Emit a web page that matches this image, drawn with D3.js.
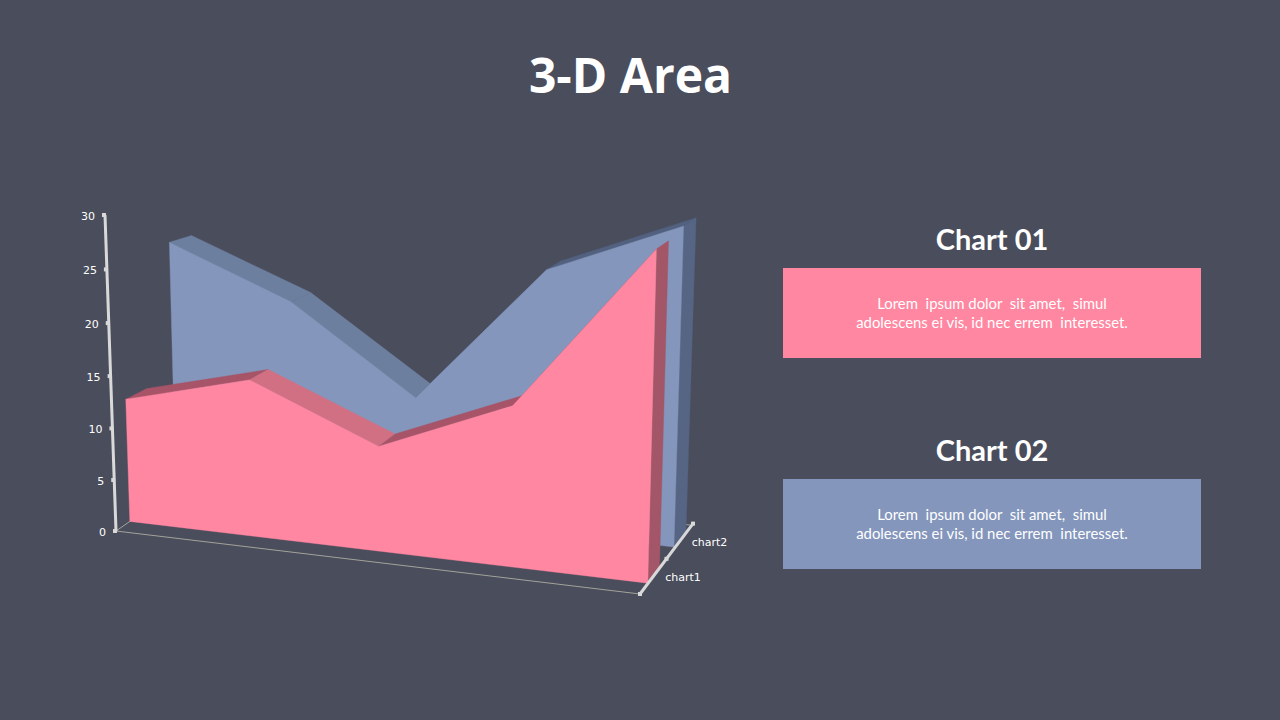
<!DOCTYPE html>
<html>
<head>
<meta charset="utf-8">
<script src="https://cdn.jsdelivr.net/npm/d3@7"></script>
<style>
  html, body { margin: 0; padding: 0; background: #4a4d5c; }
  svg { display: block; }
</style>
</head>
<body>
<script>
const width = 1280;
const height = 720;

// chart values
const categories = [0, 1, 2, 3, 4];
const seriesNames = ["chart1", "chart2"];
const chart1Values = [12.1, 14.8, 9.6, 14.1, 27.6];
const chart2Values = [25.7, 20.2, 11.6, 24, 28];
const valueTicks = [0, 5, 10, 15, 20, 25, 30];

const bodyLines = ["Lorem  ipsum dolor  sit amet,  simul", "adolescens ei vis, id nec errem  interesset."];
const panelTitles = ["Chart 01", "Chart 02"];

const pink = "#ff87a1";
const blue = "#8496bc";

const svg = d3
  .select("body")
  .append("svg")
  .attr("width", width)
  .attr("height", height);

svg.append("rect").attr("width", width).attr("height", height).attr("fill", "#4a4d5c");

svg
  .append("text")
  .attr("x", 630.5)
  .attr("y", 93)
  .attr("text-anchor", "middle")
  .attr("font-family", "Open Sans")
  .attr("font-weight", 700)
  .attr("font-size", 48)
  .attr("fill", "#fff")
  .text("3-D Area");

// box corners of the 3-D plot, [left/right][bottom/top][front/back]
const box = [
  [[[116, 531], [204, 470]], [[105, 215], [198, 192]]],
  [[[640, 594], [690, 525]], [[649, 224], [701, 192]]],
];

// foreshortening along each edge of the box
const persp = (t, r) => t / (t + r * (1 - t));

const xScale = d3.scaleLinear().domain([0, 4]).range([0, 1]);
const yScale = d3.scaleLinear().domain([0, 30]).range([0, 1]);
const zScale = d3.scaleLinear().domain([0, 1]).range([0, 1]);

const lerp = (a, b, t) => [a[0] + (b[0] - a[0]) * t, a[1] + (b[1] - a[1]) * t];

const project = (cat, val, depth) => {
  const u = persp(xScale(cat), 1.08);
  const v = persp(yScale(val), 1.04);
  const w = zScale(depth);
  const bottom = lerp(lerp(box[0][0][0], box[1][0][0], u), lerp(box[0][0][1], box[1][0][1], u), w);
  const top = lerp(lerp(box[0][1][0], box[1][1][0], u), lerp(box[0][1][1], box[1][1][1], u), w);
  return lerp(bottom, top, v);
};

const chart = svg.append("g");
const line = d3.line();

const poly = (g, pts, fill) =>
  g.append("path").attr("d", line(pts) + "Z").attr("fill", fill).attr("stroke", fill).attr("stroke-width", 0.4);

// floor lines
const floor = chart.append("g").attr("fill", "none").attr("stroke", "#a3a39a").attr("stroke-width", 1);
floor.append("path").attr("d", line([project(0, 0, 0), project(4, 0, 0)]));
floor.append("path").attr("d", line([project(0, 0, 0), project(0, 0, 1)]));
floor.append("path").attr("d", line([project(0, 0, 1), project(4, 0, 1)]));

const series = [
  { values: chart2Values, z0: 0.68, z1: 0.92, face: blue, falling: "#6d7f9f", rising: "#52617f", side: "#566584" },
  { values: chart1Values, z0: 0.157, z1: 0.39, face: pink, falling: "#d17083", rising: "#a75468", side: "#a25668" },
];

series.forEach((s) => {
  const g = chart.append("g");
  const front = categories.map((c, i) => project(c, s.values[i], s.z0));
  const back = categories.map((c, i) => project(c, s.values[i], s.z1));

  // left cap is only seen on top, so the top bands and the right side are enough
  d3.pairs(categories).forEach(([a, b]) => {
    const fill = s.values[b] < s.values[a] ? s.falling : s.rising;
    poly(g, [front[a], front[b], back[b], back[a]], fill);
  });

  const last = categories[categories.length - 1];
  poly(g, [project(last, 0, s.z0), front[last], back[last], project(last, 0, s.z1)], s.side);

  poly(g, [project(0, 0, s.z0), ...front, project(last, 0, s.z0)], s.face);
});

// value axis
const axisColor = "#d9d9d9";
chart
  .append("path")
  .attr("d", line([project(0, 0, 0), project(0, 30, 0)]))
  .attr("stroke", axisColor)
  .attr("stroke-width", 3)
  .attr("fill", "none");

valueTicks.forEach((t) => {
  const p = project(0, t, 0);
  chart
    .append("rect")
    .attr("x", p[0] - 3)
    .attr("y", p[1] - 2)
    .attr("width", 4)
    .attr("height", 4)
    .attr("fill", axisColor);
  chart
    .append("text")
    .attr("x", p[0] - 10)
    .attr("y", p[1] + 4.5)
    .attr("text-anchor", "end")
    .attr("font-family", "DejaVu Sans")
    .attr("font-size", 11)
    .attr("fill", "#fff")
    .text(t);
});

// depth axis
const depthStart = project(4, 0, 0);
const depthEnd = lerp(depthStart, project(4, 0, 1), 1.02);
const depthEndShifted = [depthEnd[0] + 2, depthEnd[1]];
chart
  .append("path")
  .attr("d", line([depthStart, depthEndShifted]))
  .attr("stroke", axisColor)
  .attr("stroke-width", 3)
  .attr("fill", "none");

[0, 0.5, 1].forEach((t) => {
  const p = lerp(depthStart, depthEndShifted, t);
  chart
    .append("rect")
    .attr("x", p[0] - 2)
    .attr("y", p[1] - 2)
    .attr("width", 4)
    .attr("height", 4)
    .attr("fill", axisColor);
});

seriesNames.forEach((name, i) => {
  const p = lerp(depthStart, depthEndShifted, 0.25 + i * 0.5);
  chart
    .append("text")
    .attr("x", p[0] + 12)
    .attr("y", p[1] + 5)
    .attr("font-family", "DejaVu Sans")
    .attr("font-size", 11)
    .attr("fill", "#fff")
    .text(name);
});

// right hand panels
const panels = svg
  .selectAll("g.panel")
  .data(panelTitles)
  .join("g")
  .attr("class", "panel")
  .attr("transform", (d, i) => `translate(783,${i === 0 ? 268 : 479})`);

panels
  .append("rect")
  .attr("width", 418)
  .attr("height", 90)
  .attr("fill", (d, i) => (i === 0 ? pink : blue));

panels
  .append("text")
  .attr("x", 209)
  .attr("y", -18)
  .attr("text-anchor", "middle")
  .attr("font-family", "Lato")
  .attr("font-weight", 700)
  .attr("font-size", 29)
  .attr("fill", "#fff")
  .text((d) => d);

panels.each(function () {
  bodyLines.forEach((t, i) => {
    d3.select(this)
      .append("text")
      .attr("x", 209)
      .attr("y", 41 + i * 19)
      .attr("text-anchor", "middle")
      .attr("font-family", "Lato")
      .attr("font-size", 14.9)
      .attr("fill", "#fff")
      .attr("xml:space", "preserve")
      .style("white-space", "pre")
      .text(t);
  });
});
</script>
</body>
</html>
